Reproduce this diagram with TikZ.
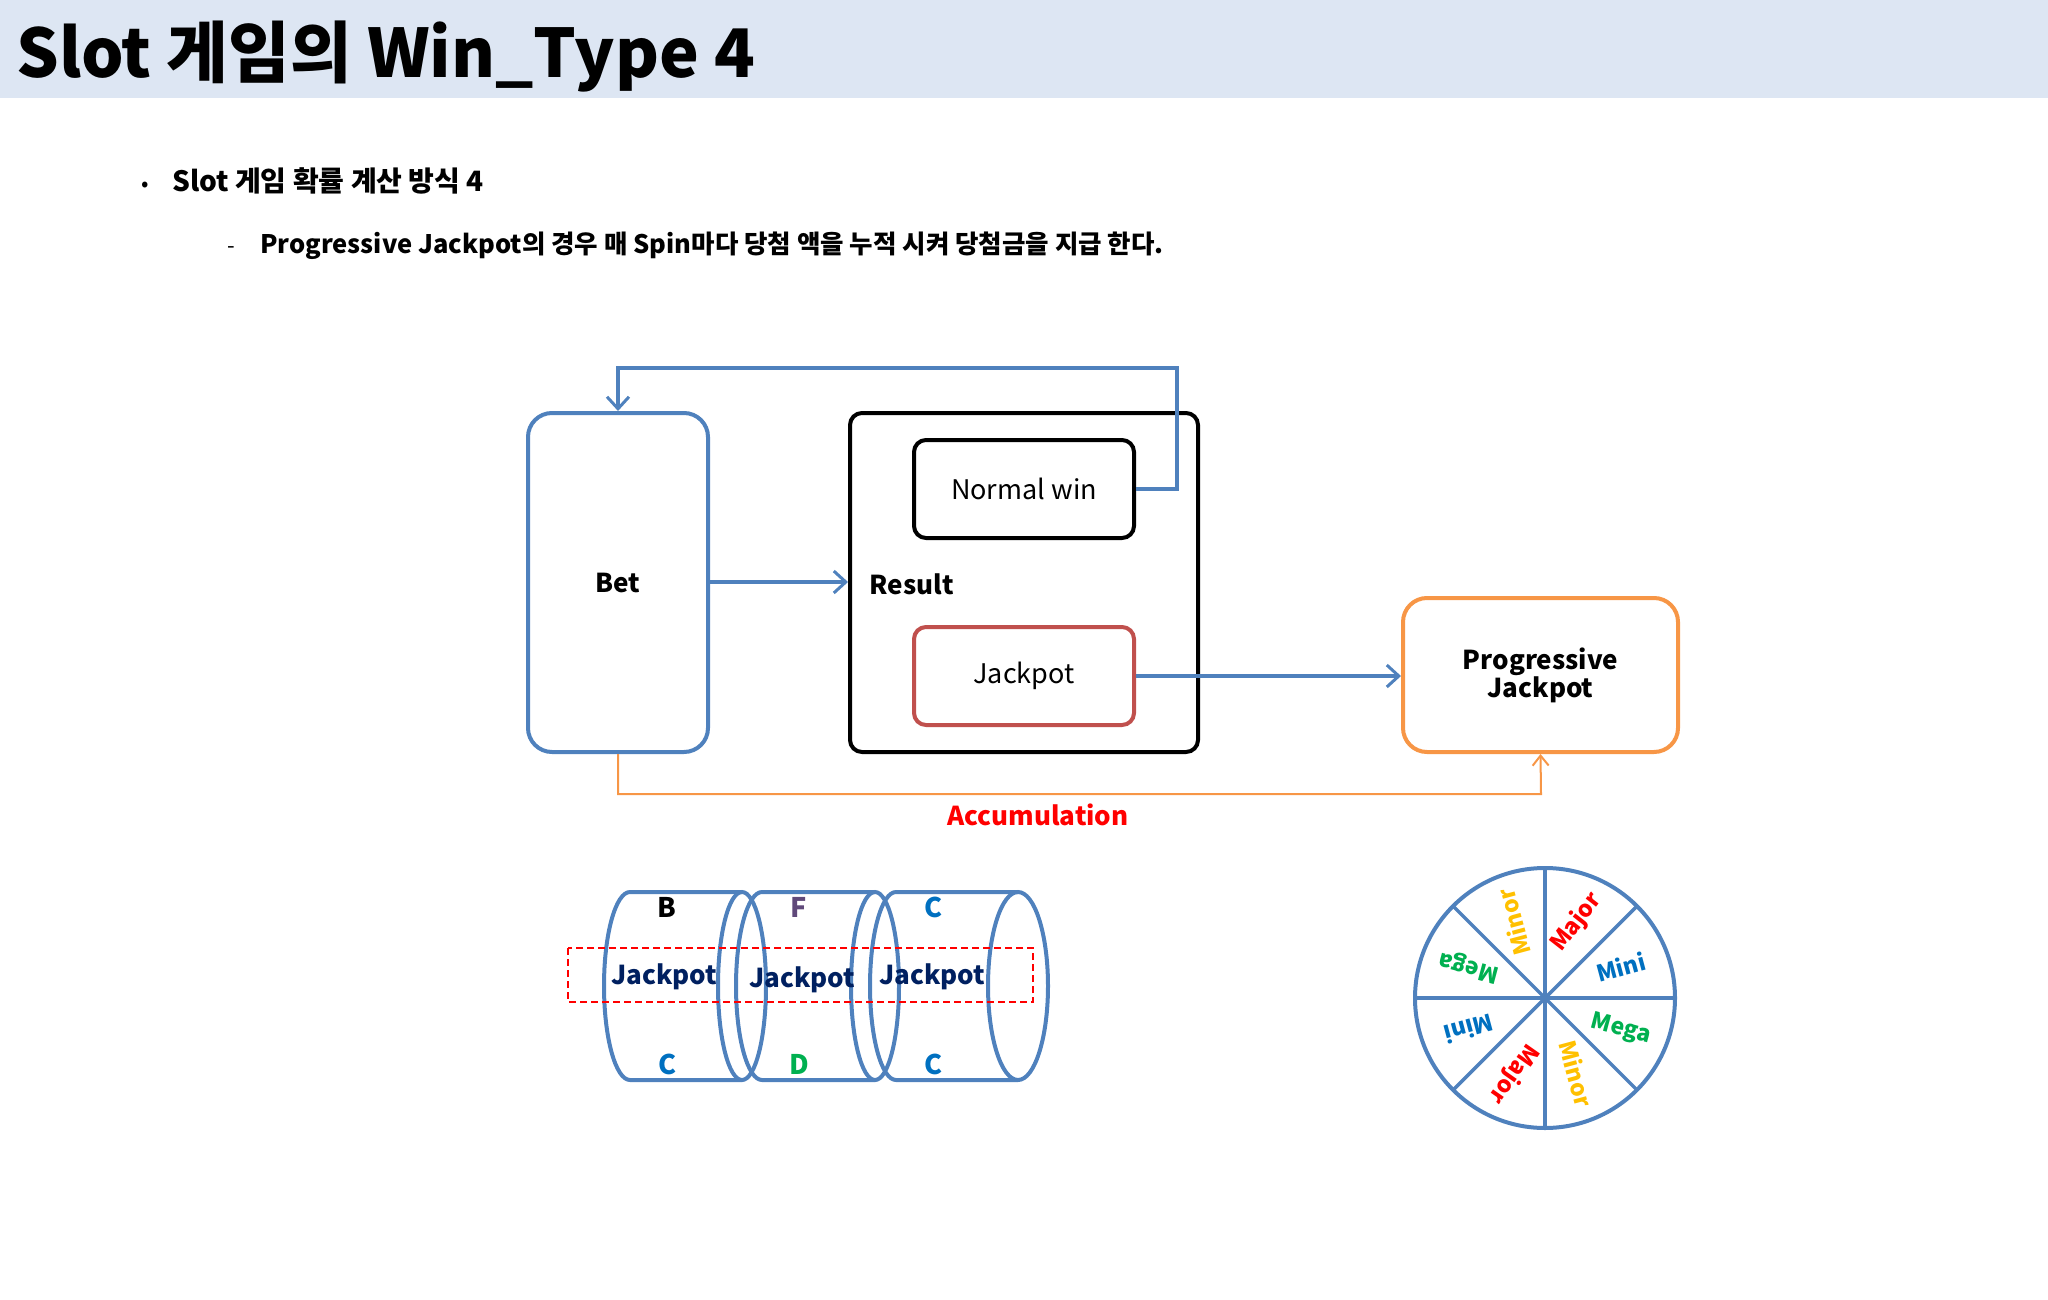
\documentclass[tikz,border=0pt]{standalone}
\usepackage{fontspec}
\setmainfont{Noto Sans CJK KR}
\usetikzlibrary{arrows.meta,calc}
\definecolor{hdr}{RGB}{221,230,243}
\definecolor{bl}{RGB}{79,129,189}
\definecolor{rd}{RGB}{192,80,77}
\definecolor{og}{RGB}{247,150,70}
\definecolor{navy}{RGB}{0,32,96}
\definecolor{mblue}{RGB}{0,112,192}
\definecolor{mgreen}{RGB}{0,176,80}
\definecolor{mgold}{RGB}{255,192,0}
\definecolor{mred}{RGB}{255,0,0}
\definecolor{mpurple}{RGB}{96,73,122}
\tikzset{
  box/.style={draw, line width=4pt, rounded corners=24pt, inner sep=0pt},
  conn/.style={draw=bl, line width=3.5pt, -{Straight Barb[length=12pt,width=22pt,line width=3pt]}},
  reel/.style={draw=bl, line width=4pt},
  lab/.style={font=\fontsize{26}{30}\selectfont\bfseries},
}
\begin{document}
\begin{tikzpicture}[x=1pt,y=-1pt]
\useasboundingbox (0,0) rectangle (2048,1300);
\fill[hdr] (0,0) rectangle (2048,98);
\node[anchor=base west, inner sep=0pt, font=\fontsize{67}{80}\selectfont\bfseries] (title) at (16,78) {Slot 게임의 Win\_Type 4};
\node[anchor=base west, inner sep=0pt, font=\fontsize{28}{30}\selectfont\bfseries] (b1) at (172,192) {Slot 게임 확률 계산 방식 4};
\node[anchor=base, inner sep=0pt, font=\fontsize{22}{30}\selectfont] (dot) at (145,192) {•};
\node[anchor=base west, inner sep=0pt, font=\fontsize{25.5}{30}\selectfont\bfseries] (b2) at (260,253) {Progressive Jackpot의 경우 매 Spin마다 당첨 액을 누적 시켜 당첨금을 지급 한다.};
\node[anchor=base, inner sep=0pt, font=\fontsize{22}{30}\selectfont] (dash) at (231,253) {-};

\node[box, draw=bl, minimum width=180pt, minimum height=339pt, lab] (bet) at (618,582.5) {Bet};
\node[box, draw=black, rounded corners=12pt, minimum width=348pt, minimum height=339pt] (res) at (1024,582.5) {};
\node[lab, anchor=west] (reslab) at (866,584) {Result};
\node[box, draw=black, rounded corners=12pt, minimum width=220pt, minimum height=98pt, font=\fontsize{27}{30}\selectfont] (nw) at (1024,489) {Normal win};
\node[box, draw=rd, rounded corners=12pt, minimum width=220pt, minimum height=98pt, font=\fontsize{27}{30}\selectfont] (jp) at (1024,676) {Jackpot};
\node[box, draw=og, minimum width=275pt, minimum height=154pt, lab, align=center] (pj) at (1540.5,675) {Progressive\\[-2pt]Jackpot};

\draw[conn] (bet.east |- 0,582) -- (res.west |- 0,582);
\draw[conn] (nw.east) -- (1177,489) -- (1177,368) -- (618,368) -- (bet.north);
\draw[conn] (jp.east) -- (pj.west |- jp.east);
\draw[draw=og, line width=2pt, -{Straight Barb[length=10pt,width=16pt,line width=2pt]}] (bet.south) -- (618,794) -- (1541,794) -- (pj.south);
\node[font=\fontsize{26}{30}\selectfont\bfseries, text=mred] (acc) at (1038,815) {Accumulation};

% reels
\foreach \a/\b/\rx in {630/742/24, 762/875/24, 896/1018/30}{
  \draw[reel] (\b,986) ellipse ({\rx} and 94);
  \draw[reel] (\b,892) -- (\a,892) arc[start angle=-90, end angle=-270, x radius=26, y radius=94] -- (\b,1080);
}
\draw[mred, line width=2pt, dash pattern=on 7pt off 4pt] (568,948) rectangle (1033,1002);
\tikzset{rl/.style={font=\fontsize{27}{30}\selectfont\bfseries}}
\node[rl] (l1) at (667,907) {B};
\node[rl, text=mpurple] (l2) at (799,907) {F};
\node[rl, text=mblue] (l3) at (933,907) {C};
\node[rl, text=mblue] (l4) at (667,1064) {C};
\node[rl, text=mgreen] (l5) at (799,1064) {D};
\node[rl, text=mblue] (l6) at (933,1064) {C};
\tikzset{jl/.style={font=\fontsize{26}{30}\selectfont\bfseries, text=navy}}
\node[jl] (j1) at (664,977) {Jackpot};
\node[jl] (j2) at (802,980) {Jackpot};
\node[jl] (j3) at (932,977) {Jackpot};

% wheel
\coordinate (wc) at (1545,998);
\draw[reel] (wc) circle (130);
\foreach \t in {0,45,...,315} \draw[reel, line width=3.5pt] (wc) -- ++(\t:130);
\tikzset{wl/.style={font=\fontsize{23}{30}\selectfont\bfseries}}
\foreach \t/\r/\w/\c [count=\i] in {22.5/15/Mini/mblue, 67.5/52/Major/mred, 112.5/105/Minor/mgold, 157.5/165/Mega/mgreen, 202.5/195/Mini/mblue, 247.5/235/Major/mred, 292.5/285/Minor/mgold, 337.5/345/Mega/mgreen}
  \node[wl, text=\c, rotate=\r] (w\i) at ($(wc)+(-\t:82)$) {\w};
\end{tikzpicture}
\end{document}
